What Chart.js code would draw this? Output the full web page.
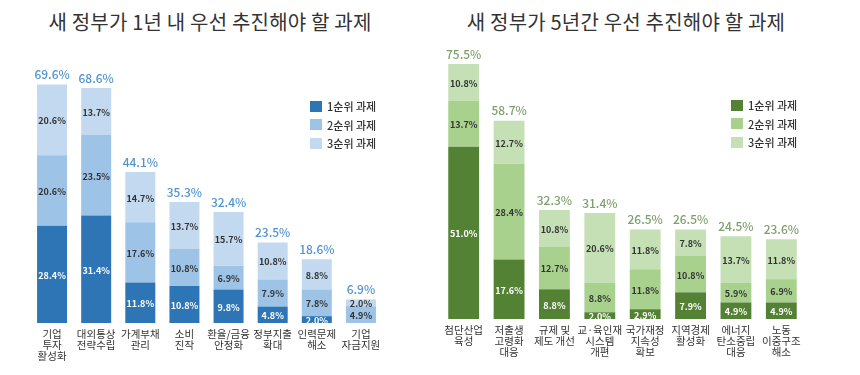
<!DOCTYPE html>
<html><head><meta charset="utf-8">
<script src="https://cdn.jsdelivr.net/npm/chart.js@4.4.1/dist/chart.umd.min.js"></script>
<style>
html,body{margin:0;padding:0;background:#fff;}
body{width:860px;height:375px;position:relative;overflow:hidden;font-family:"Noto Sans CJK KR","Noto Sans",sans-serif;}
.title{position:absolute;top:7px;font-size:20px;color:#333;font-weight:400;white-space:nowrap;transform:translateX(-50%);letter-spacing:0.2px;}
.cv{position:absolute;top:0;width:430px;height:375px;}
.legend{position:absolute;font-size:11px;color:#333;font-weight:500;}
.legend div{height:18.5px;display:flex;align-items:center;}
.legend span{display:inline-block;width:12px;height:11px;margin-right:5px;}
</style></head><body>
<div class="title" style="left:210px">새 정부가 1년 내 우선 추진해야 할 과제</div>
<div class="title" style="left:626px">새 정부가 5년간 우선 추진해야 할 과제</div>
<div class="cv" style="left:0"><canvas id="c1" width="430" height="375"></canvas></div>
<div class="cv" style="left:430px"><canvas id="c2" width="430" height="375"></canvas></div>
<div class="legend" style="left:310px;top:97px">
 <div><span style="background:#2e75b6"></span>1순위 과제</div>
 <div><span style="background:#9dc3e6"></span>2순위 과제</div>
 <div><span style="background:#c3d9ef"></span>3순위 과제</div>
</div>
<div class="legend" style="left:731px;top:96px">
 <div><span style="background:#548235"></span>1순위 과제</div>
 <div><span style="background:#a9d18e"></span>2순위 과제</div>
 <div><span style="background:#c5e0b4"></span>3순위 과제</div>
</div>
<script>
const seriesNames = ['1순위 과제','2순위 과제','3순위 과제'];

const leftCategories = [['기업','투자','활성화'],['대외통상','전략수립'],['가계부채','관리'],['소비','진작'],['환율/금융','안정화'],['정부지출','확대'],['인력문제','해소'],['기업','자금지원']];
const leftFirst  = [28.4, 31.4, 11.8, 10.8, 9.8, 4.8, 2.0, 0];
const leftSecond = [20.6, 23.5, 17.6, 10.8, 6.9, 7.9, 7.8, 4.9];
const leftThird  = [20.6, 13.7, 14.7, 13.7, 15.7, 10.8, 8.8, 2.0];
const leftTotals = [69.6, 68.6, 44.1, 35.3, 32.4, 23.5, 18.6, 6.9];

const rightCategories = [['첨단산업','육성'],['저출생','고령화','대응'],['규제 및','제도 개선'],['교·육인재','시스템','개편'],['국가재정','지속성','확보'],['지역경제','활성화'],['에너지','탄소중립','대응'],['노동','이중구조','해소']];
const rightFirst  = [51.0, 17.6, 8.8, 2.0, 2.9, 7.9, 4.9, 4.9];
const rightSecond = [13.7, 28.4, 12.7, 8.8, 11.8, 10.8, 5.9, 6.9];
const rightThird  = [10.8, 12.7, 10.8, 20.6, 11.8, 7.8, 13.7, 11.8];
const rightTotals = [75.5, 58.7, 32.3, 31.4, 26.5, 26.5, 24.5, 23.6];

const FONT = '"Noto Sans CJK KR","Noto Sans",sans-serif';

const labelPlugin = {
  id: 'labels',
  afterDatasetsDraw(chart, args, opts) {
    const ctx = chart.ctx;
    ctx.save();
    ctx.textAlign = 'center';
    ctx.textBaseline = 'middle';
    chart.data.datasets.forEach((ds, di) => {
      const meta = chart.getDatasetMeta(di);
      meta.data.forEach((bar, i) => {
        const v = ds.data[i];
        if (!v) return;
        const y = (bar.y + bar.base) / 2;
        ctx.font = '600 9px ' + FONT;
        ctx.fillStyle = di === 0 ? '#ffffff' : '#333333';
        ctx.fillText(v.toFixed(1) + '%', bar.x, y + 1);
      });
    });
    const xs = chart.scales.x, ys = chart.scales.y;
    opts.totals.forEach((t, i) => {
      const x = xs.getPixelForValue(i);
      ctx.font = '500 12px ' + FONT;
      ctx.fillStyle = opts.totalColor;
      ctx.fillText(t.toFixed(1) + '%', x, ys.getPixelForValue(t) - 10);
    });
    ctx.font = '400 10.5px ' + FONT;
    ctx.fillStyle = '#333';
    opts.cats.forEach((lines, i) => {
      const x = xs.getPixelForValue(i);
      lines.forEach((ln, k) => ctx.fillText(ln, x, ys.getPixelForValue(0) + 11 + k * 11));
    });
    ctx.restore();
  }
};

function make(id, cats, a, b, c, totals, colors, totalColor, pad, ymax) {
  new Chart(document.getElementById(id), {
    type: 'bar',
    data: {
      labels: cats.map(l => l.join(' ')),
      datasets: [
        {label: seriesNames[0], data: a, backgroundColor: colors[0]},
        {label: seriesNames[1], data: b, backgroundColor: colors[1]},
        {label: seriesNames[2], data: c, backgroundColor: colors[2]}
      ]
    },
    options: {
      responsive: false, animation: false,
      layout: {padding: pad},
      datasets: {bar: {barPercentage: 0.68, categoryPercentage: 1.0}},
      scales: {
        x: {stacked: true, display: false},
        y: {stacked: true, display: false, min: 0, max: ymax}
      },
      plugins: {legend: {display: false}, tooltip: {enabled: false},
        labels: {totals: totals, totalColor: totalColor, cats: cats}}
    },
    plugins: [labelPlugin]
  });
}

make('c1', leftCategories, leftFirst, leftSecond, leftThird, leftTotals,
  ['#2e75b6', '#9dc3e6', '#c3d9ef'], '#4f93cf',
  {left: 30, right: 47, top: 49, bottom: 52}, 80);
make('c2', rightCategories, rightFirst, rightSecond, rightThird, rightTotals,
  ['#548235', '#a9d18e', '#c5e0b4'], '#7fa06c',
  {left: 11, right: 56, top: 32, bottom: 56}, 85);
</script>
</body></html>
